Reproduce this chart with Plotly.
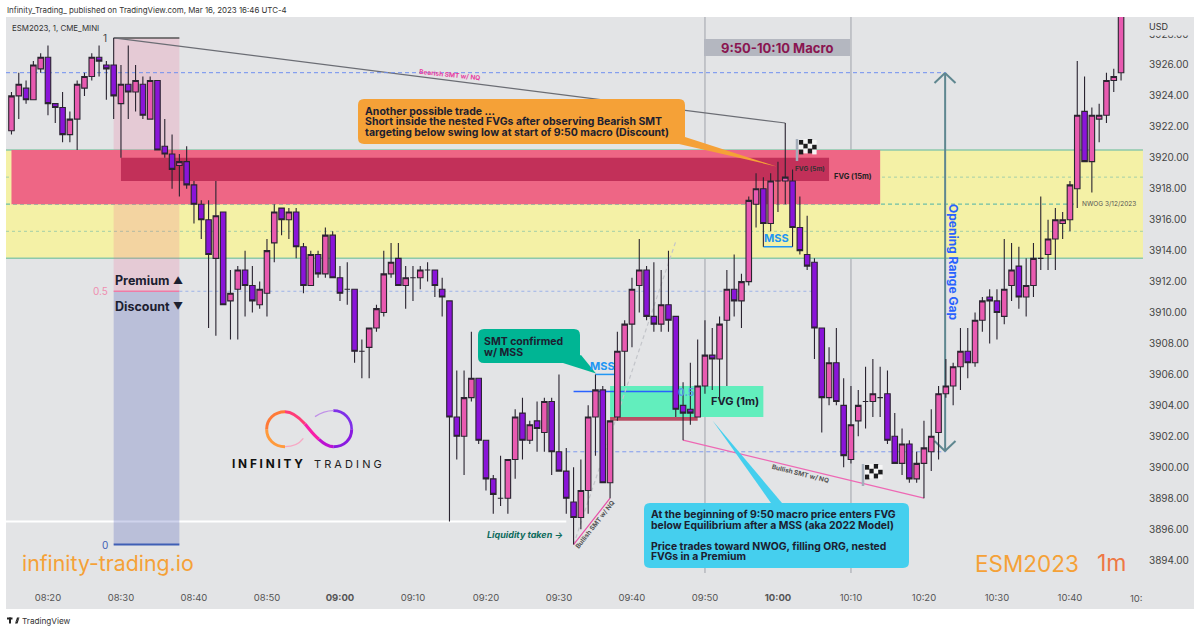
import plotly.graph_objects as go
import pandas as pd

DAY = "2023-03-16"

# candles, 08:15 to 10:47, one per minute
times = pd.date_range(f"{DAY} 08:15", periods=153, freq="min").strftime("%Y-%m-%d %H:%M").tolist()

opens = [
    3921.75, 3924, 3924.5, 3923.75, 3925.75, 3926.5, 3923.5, 3923.25, 3921.5, 3922.5,
    3924.5, 3925.25, 3926.5, 3926, 3926, 3923.5, 3924.75, 3924.25, 3924.75, 3922.5,
    3925, 3920.75, 3920.25, 3919.5, 3919.75, 3918.25, 3917, 3916, 3913.5, 3916.5,
    3910.75, 3911.5, 3912.75, 3911.75, 3910.5, 3911.25, 3914.5, 3916.75, 3916, 3916.5,
    3914.25, 3911.75, 3913.75, 3912.5, 3915, 3912.25, 3911.5, 3911.5, 3907.5, 3907.75,
    3909, 3910, 3912.5, 3913.5, 3911.75, 3912.25, 3912.25, 3912.75, 3912.75, 3911.5,
    3910.75, 3903.25, 3902, 3904.5, 3905.75, 3901.75, 3899.25, 3898, 3898, 3900.5,
    3903.5, 3901.75, 3903, 3902.25, 3904.25, 3901, 3899.75, 3897.75, 3896.75, 3898.5,
    3903.25, 3905, 3899, 3903.25, 3907.5, 3909.25, 3911.75, 3912.75, 3909.75, 3909.25,
    3910.5, 3909.75, 3904, 3903.75, 3903.25, 3905.25, 3907.25, 3907, 3909.5, 3911.5,
    3910.75, 3912, 3917, 3918, 3915.75, 3918.5, 3918.5, 3918.5, 3915.5, 3913.75,
    3913.25, 3909, 3904.5, 3906.75, 3904, 3900.5, 3903, 3904.25, 3904.25, 3904.5,
    3904.75, 3902, 3900.25, 3901.5, 3899.25, 3900.25, 3901, 3902.25, 3904.75, 3905.25,
    3906.5, 3907.5, 3906.75, 3909.5, 3911, 3910.75, 3909.75, 3911.75, 3913, 3911,
    3911.75, 3913.5, 3913.75, 3914.75, 3915.75, 3916, 3918, 3923, 3919.75, 3922.5,
    3922.75, 3925, 3925.5,
]
highs = [
    3924.25, 3925.5, 3925, 3926.25, 3926.75, 3927.25, 3923.5, 3924.25, 3923, 3925,
    3925.5, 3926.75, 3927.25, 3926.25, 3927.75, 3926, 3927.25, 3926, 3925.25, 3925.25,
    3925, 3922.5, 3921.5, 3920.25, 3920.75, 3918.5, 3917.25, 3917.25, 3918.5, 3916.5,
    3912.75, 3913, 3914, 3913, 3912, 3914.75, 3917, 3916.75, 3916.75, 3916.75,
    3914.5, 3914, 3914, 3915.5, 3915.25, 3913, 3913.25, 3911.5, 3908.25, 3909,
    3910.5, 3914, 3914.5, 3914.5, 3913, 3913, 3913, 3913.25, 3912.75, 3912.25,
    3910.75, 3906.25, 3906.25, 3908.75, 3905.75, 3901.75, 3899.5, 3900.75, 3900.5, 3903.75,
    3904.5, 3903, 3904.25, 3904.5, 3904.5, 3906, 3901.25, 3900, 3900.5, 3904,
    3906, 3905.25, 3903, 3908.75, 3909.5, 3912.25, 3914.75, 3913, 3913.25, 3912.75,
    3914, 3909.75, 3905.5, 3906.75, 3908.25, 3909.5, 3909, 3909.75, 3912.75, 3913.75,
    3912.5, 3917.5, 3919, 3918.75, 3919, 3919.75, 3922.25, 3919.25, 3917.5, 3916.25,
    3913.5, 3909, 3907.75, 3909, 3905.75, 3905.25, 3905, 3906.5, 3907, 3906.5,
    3906.25, 3903.5, 3902.5, 3901.75, 3901, 3903, 3903.75, 3905.25, 3907, 3906.75,
    3909, 3909, 3910, 3911, 3911.5, 3911.5, 3914.75, 3914.5, 3914.25, 3913.5,
    3914.5, 3917.5, 3916, 3916.75, 3916.5, 3918.5, 3926.25, 3925.25, 3923.25, 3923.5,
    3925.5, 3925.75, 3931,
]
lows = [
    3921.5, 3922.5, 3923.5, 3923.75, 3925.5, 3922.75, 3922.25, 3921, 3921, 3920.5,
    3924, 3925, 3925.25, 3923.75, 3922.5, 3920, 3922.5, 3923, 3922.5, 3922.5,
    3920.5, 3920, 3918, 3917.5, 3918, 3915.75, 3914.75, 3909, 3908.5, 3910.5,
    3908.25, 3908.25, 3909.75, 3910, 3910.25, 3909.75, 3913.25, 3915, 3914.75, 3913.5,
    3911.25, 3911.75, 3912.25, 3912.25, 3912.25, 3910.75, 3910.5, 3906.75, 3905.75, 3905.75,
    3908.75, 3909.75, 3912.25, 3911.75, 3910.25, 3910.75, 3911.5, 3912, 3911, 3909.75,
    3896.5, 3900.5, 3899.5, 3904.25, 3901.5, 3898.5, 3897, 3897.5, 3897, 3899.25,
    3900.5, 3901.5, 3901, 3901, 3899.5, 3899.75, 3897, 3895, 3896, 3897,
    3900.75, 3899, 3898, 3903, 3905.25, 3907.75, 3910, 3909.5, 3908.75, 3908.75,
    3908.75, 3903.25, 3901.75, 3902.75, 3903.25, 3904.75, 3905, 3904.5, 3905.25, 3909.75,
    3909, 3911.75, 3915.5, 3914.25, 3915.25, 3916.5, 3917, 3914.25, 3913.75, 3912.75,
    3907, 3902.25, 3904, 3904, 3900, 3900.25, 3902, 3902.5, 3903.25, 3903.25,
    3901.5, 3900.25, 3899.5, 3899, 3899, 3898, 3899.75, 3900.5, 3904.5, 3904,
    3905, 3905.75, 3906.5, 3908.75, 3908, 3908.25, 3909.25, 3910.75, 3910.25, 3909.75,
    3911, 3912.75, 3912.75, 3912.75, 3914.75, 3915.25, 3916.75, 3919.75, 3917.75, 3921,
    3922.25, 3924.25, 3925,
]
closes = [
    3924, 3924.75, 3923.75, 3926, 3926.5, 3923.5, 3923.25, 3921.5, 3922.5, 3924.75,
    3925.25, 3926.5, 3926.25, 3925.75, 3924, 3924.75, 3924.25, 3925, 3922.75, 3925,
    3920.5, 3920.25, 3919.25, 3919.75, 3918.25, 3917, 3916, 3913.75, 3916.25, 3910.5,
    3911.25, 3912.75, 3911.75, 3910.75, 3911.5, 3914, 3916.5, 3916, 3916.5, 3914.25,
    3911.75, 3913.75, 3912.5, 3915, 3912.25, 3911.25, 3911.5, 3907.5, 3907.5, 3909,
    3910.25, 3912.5, 3913.25, 3911.75, 3912.25, 3912.25, 3912.75, 3912.75, 3911.75, 3911,
    3903.25, 3902, 3904.5, 3905.75, 3901.75, 3899.25, 3898.25, 3898, 3900.5, 3903.25,
    3901.75, 3902.75, 3902.5, 3904.25, 3901, 3899.75, 3898, 3896.75, 3898.5, 3903.25,
    3905, 3899, 3903, 3907.5, 3909.25, 3911.5, 3912.75, 3909.75, 3909.25, 3910.5,
    3909.5, 3903.75, 3903.5, 3903.5, 3905.25, 3907.25, 3907, 3909.25, 3911.5, 3910.75,
    3912, 3917.25, 3918, 3915.75, 3918.5, 3918.5, 3918.75, 3915.5, 3914, 3913,
    3909, 3904.5, 3906.75, 3904.25, 3900.75, 3902.75, 3904, 3904.25, 3904.75, 3904.5,
    3901.75, 3900.25, 3901.5, 3899.25, 3900.25, 3901.25, 3902, 3904.75, 3905.25, 3906.5,
    3907.5, 3906.75, 3909.5, 3910.75, 3910.75, 3910, 3911.5, 3912.75, 3911, 3911.75,
    3913.5, 3913.5, 3914.75, 3916, 3916, 3918.25, 3922.75, 3919.75, 3922.75, 3922.75,
    3925, 3925.25, 3930.5,
]

price_ticks = [3894, 3896, 3898, 3900, 3902, 3904, 3906, 3908, 3910, 3912, 3914, 3916,
               3918, 3920, 3922, 3924, 3926, 3928]
time_ticks = ["08:20", "08:30", "08:40", "08:50", "09:00", "09:10", "09:20", "09:30",
              "09:40", "09:50", "10:00", "10:10", "10:20", "10:30", "10:40"]

orange_lines = ["Another possible trade ...",
                "Short inside the nested FVGs after observing Bearish SMT",
                "targeting below swing low at start of 9:50 macro (Discount)"]
cyan_lines = ["At the beginning of 9:50 macro price enters FVG",
              "below Equilibrium after a MSS (aka 2022 Model)",
              "",
              "Price trades toward NWOG, filling ORG, nested",
              "FVGs in a Premium"]

# pixel box of the pane
L, R, T, B = 6, 1146, 17, 585
FONT = "Inter"
BG = "#e3e4e6"
DARK = "#1c2030"
FINE_DASH = "4px,3px"


def t(hhmm):
    return f"{DAY} {hhmm}"


def fx(x):
    return (x - L) / (R - L)


def fy(y):
    return (B - y) / (B - T)


def pt(x, y):
    return f"{fx(x):.5f} {fy(y):.5f}"


shapes = []
notes = []


def band(x0, x1, p0, p1, fill):
    shapes.append(dict(type="rect", xref="x", yref="y", x0=t(x0), x1=t(x1), y0=p0, y1=p1,
                       fillcolor=fill, line=dict(width=0), layer="below"))


def seg(x0, p0, x1, p1, color, width=1, dash="solid"):
    shapes.append(dict(type="line", xref="x", yref="y", x0=t(x0), x1=t(x1), y0=p0, y1=p1,
                       line=dict(color=color, width=width, dash=dash), layer="below"))


def pline(x0, y0, x1, y1, color, width=1, layer="above"):
    shapes.append(dict(type="line", xref="paper", yref="paper", x0=fx(x0), x1=fx(x1),
                       y0=fy(y0), y1=fy(y1), line=dict(color=color, width=width), layer=layer))


def pfill(path, color, layer="above"):
    shapes.append(dict(type="path", xref="paper", yref="paper", path=path, fillcolor=color,
                       line=dict(width=0), layer=layer))


def box(x0, y0, x1, y1, color, layer="above"):
    pfill(f"M {pt(x0, y0)} L {pt(x1, y0)} L {pt(x1, y1)} L {pt(x0, y1)} Z", color, layer)


def rounded(x0, y0, x1, y1, r, color):
    path = (f"M {pt(x0 + r, y0)} L {pt(x1 - r, y0)} Q {pt(x1, y0)} {pt(x1, y0 + r)} "
            f"L {pt(x1, y1 - r)} Q {pt(x1, y1)} {pt(x1 - r, y1)} "
            f"L {pt(x0 + r, y1)} Q {pt(x0, y1)} {pt(x0, y1 - r)} "
            f"L {pt(x0, y0 + r)} Q {pt(x0, y0)} {pt(x0 + r, y0)} Z")
    pfill(path, color)


def tail(p1, p2, p3, color):
    pfill(f"M {pt(*p1)} L {pt(*p2)} L {pt(*p3)} Z", color)


def note(text, x, y, size, color=DARK, anchor="left", angle=0, bold=False, italic=False, family=FONT):
    if bold:
        text = f"<b>{text}</b>"
    if italic:
        text = f"<i>{text}</i>"
    # annotations carry about 2px of padding on the left
    if anchor == "left":
        x -= 2
    notes.append(dict(text=text, xref="paper", yref="paper", x=fx(x), y=fy(y), xanchor=anchor,
                      yanchor="middle", showarrow=False, textangle=angle,
                      font=dict(family=family, size=size, color=color)))


def flag(x, y):
    pline(x, y, x, y + 22, "#a3adba", 2.5)
    offs = [1, 0, 0, 1]
    for c in range(4):
        for r in range(3):
            col = "#1d1d1f" if (c + r) % 2 == 0 else "#f6f6f6"
            box(x + 2 + c * 4.4, y + offs[c] + r * 4.8, x + 6.4 + c * 4.4, y + 4.8 + offs[c] + r * 4.8, col)


# pane background, right axis included
box(6, 17, 1194, 609, BG, "below")

# white liquidity line goes under the fib
seg("08:14:15", 3896.5, "09:31", 3896.5, "#ffffff", 2)

# opening range gap
band("08:14:15", "10:50", 3913.5, 3920.5, "#f4f1a6")
seg("08:14:15", 3920.5, "10:50", 3920.5, "#8cc9ab", 1.5)
seg("08:14:15", 3913.5, "10:50", 3913.5, "#8cc9ab", 1.5)
seg("08:14:15", 3918.75, "10:50", 3918.75, "#a3cfa8", 1, "dot")
seg("08:14:15", 3915.25, "10:50", 3915.25, "#a3cfa8", 1, "dot")
seg("08:14:15", 3917, "10:41", 3917, "#6cbfa8", 1.2, FINE_DASH)

# fib premium / discount
band("08:29", "08:38", 3911.375, 3927.75, "rgba(240,98,146,0.2)")
band("08:29", "08:38", 3895, 3911.375, "rgba(63,81,181,0.25)")

# nested FVGs
band("08:15", "10:14", 3917, 3920.5, "#ee6685")
band("08:30", "10:07", 3918.5, 3920, "#c23059")

seg("08:29", 3927.75, "08:38", 3927.75, "#555555", 1.5)
seg("08:29", 3911.375, "08:38", 3911.375, "#ee7ba6", 1.5)
seg("08:38", 3911.375, "10:05", 3911.375, "#9db2e8", 1, "dot")
seg("08:29", 3895, "08:38", 3895, "#3f5fb5", 2)
seg("08:29", 3927.75, "10:01", 3922.25, "#6b6d74", 1.2)

# macro window
for m in ["09:50", "10:10"]:
    shapes.append(dict(type="line", xref="x", yref="paper", x0=t(m), x1=t(m), y0=fy(573), y1=1,
                       line=dict(color="#b6b8be", width=1.5), layer="below"))

# dashed levels
seg("08:14:15", 3925.5, "10:23", 3925.5, "#6f8ff0", 1, FINE_DASH)
seg("09:31", 3901, "10:23", 3901, "#7f9bef", 1, FINE_DASH)

# 1m FVG and the lines round it
band("09:37", "09:58", 3903.25, 3905.25, "#62eebd")
band("09:37", "09:49", 3903, 3903.25, "#b84f65")
seg("09:32", 3904.9, "09:46", 3904.9, "#2962ff", 1.5)
seg("09:35", 3906, "09:38", 3906, "#2196f3", 1.5)
seg("09:58", 3914.25, "10:02", 3914.25, "#2196f3", 1.5)
seg("09:32", 3895, "09:46", 3914.6, "#c3c5ca", 1.2, FINE_DASH)
seg("09:32", 3895, "09:37", 3898, "#e84fa8", 1.2)
seg("09:47", 3901.75, "10:20", 3898, "#ee68b4", 1.3)

# opening range gap arrow
arrow = "#5f8790"
seg("10:22:54", 3925.5, "10:22:54", 3901, arrow, 2)
pline(934.5, 83, 945, 73, arrow, 2, "below")
pline(955.5, 83, 945, 73, arrow, 2, "below")
pline(934.5, 441, 945, 451, arrow, 2, "below")
pline(955.5, 441, 945, 451, arrow, 2, "below")

# callouts
tail((685, 137), (679, 144), (776.5, 166.5), "#f5a137")
rounded(358, 99, 685, 144, 6, "#f5a137")
tail((771, 503), (782, 503), (712.7, 420.7), "#45cfee")
rounded(644, 503, 909, 568, 6, "#45cfee")
tail((581, 355), (563, 363), (596, 373.5), "#00b594")
rounded(478, 329, 580, 363, 6, "#00b594")

box(704, 39, 850, 56, "#b4b7c0")

flag(797, 139)
flag(863, 464)

# logo strokes, one colour per stretch
logo = [
    ((235, 115), (220, 135), (200, 140), (180, 140), "#f7a8c4", 1.4),
    ((180, 140), (148, 140), (125, 118), (125, 88), "#ff9a3c", 3),
    ((125, 88), (125, 58), (148, 35), (180, 35), "#ff7a38", 3),
    ((180, 35), (205, 35), (225, 55), (240, 72), "#ff3c78", 3),
    ((240, 72), (255, 90), (268, 108), (282, 118), "#f81fa8", 3.2),
    ((282, 118), (295, 130), (310, 140), (325, 140), "#bd12d2", 3.2),
    ((325, 140), (358, 140), (380, 118), (380, 88), "#8a1ae0", 3),
    ((380, 88), (380, 58), (358, 32), (325, 32), "#7f30e8", 2.6),
    ((325, 32), (302, 32), (285, 40), (270, 50), "#c090e8", 1.4),
]
for p0, p1, p2, p3, col, w in logo:
    coords = [pt(225 + a / 3, 400 + b / 3) for a, b in (p0, p1, p2, p3)]
    shapes.append(dict(type="path", xref="paper", yref="paper",
                       path=f"M {coords[0]} C {coords[1]} {coords[2]} {coords[3]}",
                       line=dict(color=col, width=w), layer="below"))

# TradingView mark in the footer
box(7, 617.5, 12.5, 619.5, "#222222")
box(9, 617.5, 11, 623.5, "#222222")
tail((15, 623.5), (17, 617.5), (19.5, 617.5), "#222222")
tail((15, 623.5), (19.5, 617.5), (17.5, 623.5), "#222222")

# texts
note("Infinity_Trading_ published on TradingView.com, Mar 16, 2023 16:46 UTC-4", 7, 10, 7.9, "#333333")
note("ESM2023, 1, CME_MINI", 12, 28, 7.9, "#333333")
note("1", 104.5, 38, 10, "#444444", "center")
note("0.5", 100, 291, 10, "#ef8fb0", "center")
note("0", 104.5, 545, 10, "#3f5fb5", "center")
note("Premium", 115, 280, 12.5, DARK, bold=True)
note("▲", 178, 280, 10, DARK, "center")
note("Discount", 115, 306, 12.5, DARK, bold=True)
note("▼", 178, 306, 10, DARK, "center")
note("infinity-trading.io", 22, 563, 21.3, "#f5a137")
note("ESM2023", 975, 563, 22.5, "#f5a137")
note("1m", 1097, 563, 23, "#ee7744")
note("TradingView", 22, 621, 8.2, "#333333")
note("I N F I N I T Y", 232, 464, 11.8, "#111111", bold=True)
note("T R A D I N G", 314, 464, 11, "#222222")
note("Bearish SMT w/ NQ", 449, 75, 6.5, "#e83fa0", "center", 6, bold=True)
note("Bullish SMT w/ NQ", 595, 525, 6.5, "#555555", "center", -52, bold=True)
note("Bullish SMT w/ NQ", 801, 474, 6.5, "#555555", "center", 14, bold=True)
note("Liquidity taken →", 487, 534, 9, "#0d6b5c", bold=True, italic=True)
note("FVG (5m)", 810, 169, 6.5, "#333333", "center", bold=True)
note("FVG (15m)", 834, 176.5, 7.5, "#222222", bold=True)
note("NWOG 3/12/2023", 1082, 204, 6.5, "#555555")
note("FVG (1m)", 735, 401, 11, DARK, "center", bold=True)
note("0.5", 686, 392, 10, "#5a9be6", "center", bold=True)
note("MSS", 602, 366, 11, "#2196f3", "center", bold=True)
note("MSS", 776, 238, 11, "#2196f3", "center", bold=True)
note("9:50-10:10 Macro", 777, 48, 13, "#8a1550", "center", bold=True)
note("Opening Range Gap", 954, 262, 12, "#2962ff", "center", 90, bold=True)
note("SMT confirmed", 484, 341, 10.5, DARK, bold=True)
note("w/ MSS", 484, 352, 10.5, DARK, bold=True)
for line, y in zip(orange_lines, [111, 121.5, 132]):
    note(line, 365, y, 10.5, DARK, bold=True)
for line, y in zip(cyan_lines, [514.5, 525, 535.5, 546, 556.5]):
    if line:
        note(line, 651, y, 10.4, DARK, bold=True)

# top of the price axis is hidden behind the currency label
box(1146, 17, 1194, 35.5, BG)
note("USD", 1149, 26.5, 9, "#333333")
note("10:", 1130, 598, 9.5, "#555555")

fig = go.Figure(go.Candlestick(
    x=times, open=opens, high=highs, low=lows, close=closes,
    increasing=dict(line=dict(color="#2a2430", width=1.1), fillcolor="#e85ab0"),
    decreasing=dict(line=dict(color="#2a2430", width=1.1), fillcolor="#8a14d8"),
    showlegend=False,
))

fig.update_layout(
    width=1200, height=632,
    margin=dict(l=L, r=1200 - R, t=T, b=632 - B, autoexpand=False),
    paper_bgcolor="#ffffff", plot_bgcolor=BG,
    boxgap=0.1, boxgroupgap=0.16,
    font=dict(family=FONT, size=9.5, color="#555555"),
    shapes=shapes, annotations=notes,
    showlegend=False,
)
fig.update_xaxes(
    type="date", range=[t("08:14:15"), t("10:50:25")], rangeslider_visible=False,
    showgrid=False, zeroline=False, showline=False, ticks="",
    tickmode="array", tickvals=[t(m) for m in time_ticks],
    ticktext=[f"<b>{m}</b>" if m.endswith(":00") else m for m in time_ticks],
    tickangle=0, ticklabelstandoff=5,
)
fig.update_yaxes(
    range=[3892.39, 3929.1], side="right", showgrid=False, zeroline=False, showline=False,
    ticks="", tickmode="array", tickvals=price_ticks,
    ticktext=[f"{p}.00" for p in price_ticks],
    tickfont=dict(size=10, color="#444444"), ticklabelstandoff=2,
)

fig.write_html("out.html", config=dict(displayModeBar=False),
               post_script="document.body.style.margin='0';")
